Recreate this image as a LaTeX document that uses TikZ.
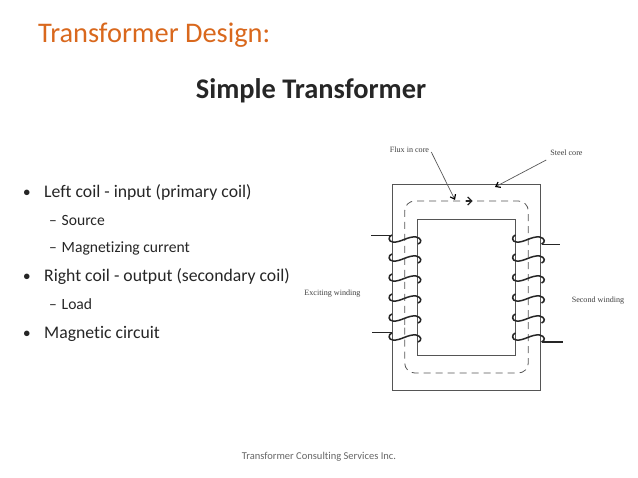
\documentclass[tikz,border=0pt]{standalone}
\usepackage{fontspec}
\setmainfont{Carlito}[Ligatures=NoCommon]
\newfontfamily\figfont{Liberation Serif}
\usepackage{xcolor}
\usetikzlibrary{arrows.meta, positioning}
\definecolor{titleorange}{HTML}{D9681D}
\definecolor{bodytext}{HTML}{262626}
\definecolor{corestroke}{HTML}{555555}
\tikzset{
  bulletmark/.style={anchor=base west, font=\fontsize{13}{15}\selectfont\bfseries, text=bodytext, inner sep=0pt},
  bulletitem/.style={anchor=base west, font=\fontsize{17.7}{20}\selectfont, text=bodytext, inner sep=0pt},
  subitem/.style={anchor=base west, font=\fontsize{15.6}{17}\selectfont, text=bodytext, inner sep=0pt},
  figlabel/.style={anchor=center, font=\figfont\fontsize{8.1}{10}\selectfont, text=black!75, inner sep=0pt},
  coreline/.style={draw=corestroke, line width=0.9pt},
  fluxline/.style={draw=corestroke, line width=0.8pt, dash pattern=on 7pt off 5pt},
  coilline/.style={draw=black!85, line width=1.5pt},
  pointer/.style={draw=black!65, line width=0.7pt, -{Straight Barb[length=4pt,width=6pt,black,line width=1.2pt]}}
}
\newcommand{\coilturn}[2]{%
  \draw[coilline] (#1+2,#2-5) .. controls (#1-2,#2-4) and (#1-2,#2+2) .. (#1+3,#2+2)
    .. controls (#1+10,#2+3) and (#1+18,#2-4) .. (#1+26,#2-3)
    .. controls (#1+32,#2-2) and (#1+32,#2+3) .. (#1+28,#2+4);}
\begin{document}
\begin{tikzpicture}[x=1pt, y=-1pt, >=Stealth]
  \useasboundingbox[fill=white] (0,0) rectangle (638,478);
  % --- Headings ---
  \node[anchor=base west, font=\fontsize{28.4}{32}\selectfont, text=titleorange, inner sep=0pt] (title) at (38,43) {Transformer Design:};
  \node[anchor=base, font=\fontsize{28.4}{32}\selectfont\bfseries, text=black!85, inner sep=0pt] (subtitle) at (311,99) {Simple Transformer};
  % --- Bullets ---
  \node[bulletmark] (bulA) at (23.5,197) {•};
  \node[bulletitem] (itemA) at (44,197.7) {Left coil - input (primary coil)};
  \node[subitem] (dashA) at (49,226) {–};
  \node[subitem] (subA) at (61.5,226) {Source};
  \node[subitem] (dashB) at (49,252.7) {–};
  \node[subitem] (subB) at (61.5,252.7) {Magnetizing current};
  \node[bulletmark] (bulB) at (23.5,281) {•};
  \node[bulletitem] (itemB) at (44,281.7) {Right coil - output (secondary coil)};
  \node[subitem] (dashC) at (49,309.3) {–};
  \node[subitem] (subC) at (61.5,309.3) {Load};
  \node[bulletmark] (bulC) at (23.5,338) {•};
  \node[bulletitem] (itemC) at (44,338.3) {Magnetic circuit};
  % --- Core ---
  \draw[coreline] (392.3,184.3) rectangle (540.7,390);
  \draw[coreline] (417.3,219.3) rectangle (515.3,355);
  % --- Flux path ---
  \draw[fluxline, rounded corners=10pt] (404.7,335) -- (404.7,201) -- (528.3,201) -- (528.3,373) -- (404.7,373) -- cycle;
  \coordinate (fluxmark) at (472.5,201);
  \draw[draw=black!85, line width=1.2pt, -{Straight Barb[length=4pt,width=8pt]}] (466,201) -- (fluxmark);
  % --- Windings ---
  \foreach \yturn in {240,259,279,299,319,338} {
    \coilturn{390}{\yturn}
    \coilturn{513.5}{\yturn}
  }
  % --- Leads ---
  \coordinate (leadA) at (371,235.5);
  \coordinate (leadAend) at (392,235.5);
  \coordinate (leadB) at (372,332.7);
  \coordinate (leadBend) at (392,332.7);
  \coordinate (leadC) at (541.5,244.3);
  \coordinate (leadCend) at (560,244.3);
  \coordinate (leadD) at (541.5,342);
  \coordinate (leadDend) at (563,342);
  \draw[coilline] (leadA) -- (leadAend);
  \draw[coilline] (leadB) -- (leadBend);
  \draw[coilline] (leadC) -- (leadCend);
  \draw[coilline] (leadD) -- (leadDend);
  % --- Labels ---
  \node[figlabel] (fluxlabel) at (409.5,150) {Flux in core};
  \node[figlabel] (steellabel) at (566.5,153) {Steel core};
  \node[figlabel] (excitelabel) at (332.5,294) {Exciting winding};
  \node[figlabel] (secondlabel) at (598,301) {Second winding};
  \coordinate (fluxtip) at (455,200);
  \coordinate (steeltip) at (495,187);
  \draw[pointer] (fluxlabel.east)++(2,2) -- (fluxtip);
  \draw[pointer] (steellabel.west)++(-4,7) -- (steeltip);
  % --- Footer ---
  \node[anchor=base, font=\fontsize{10.5}{12}\selectfont, text=black!60, inner sep=0pt] (footer) at (319,460) {Transformer Consulting Services Inc.};
\end{tikzpicture}
\end{document}
